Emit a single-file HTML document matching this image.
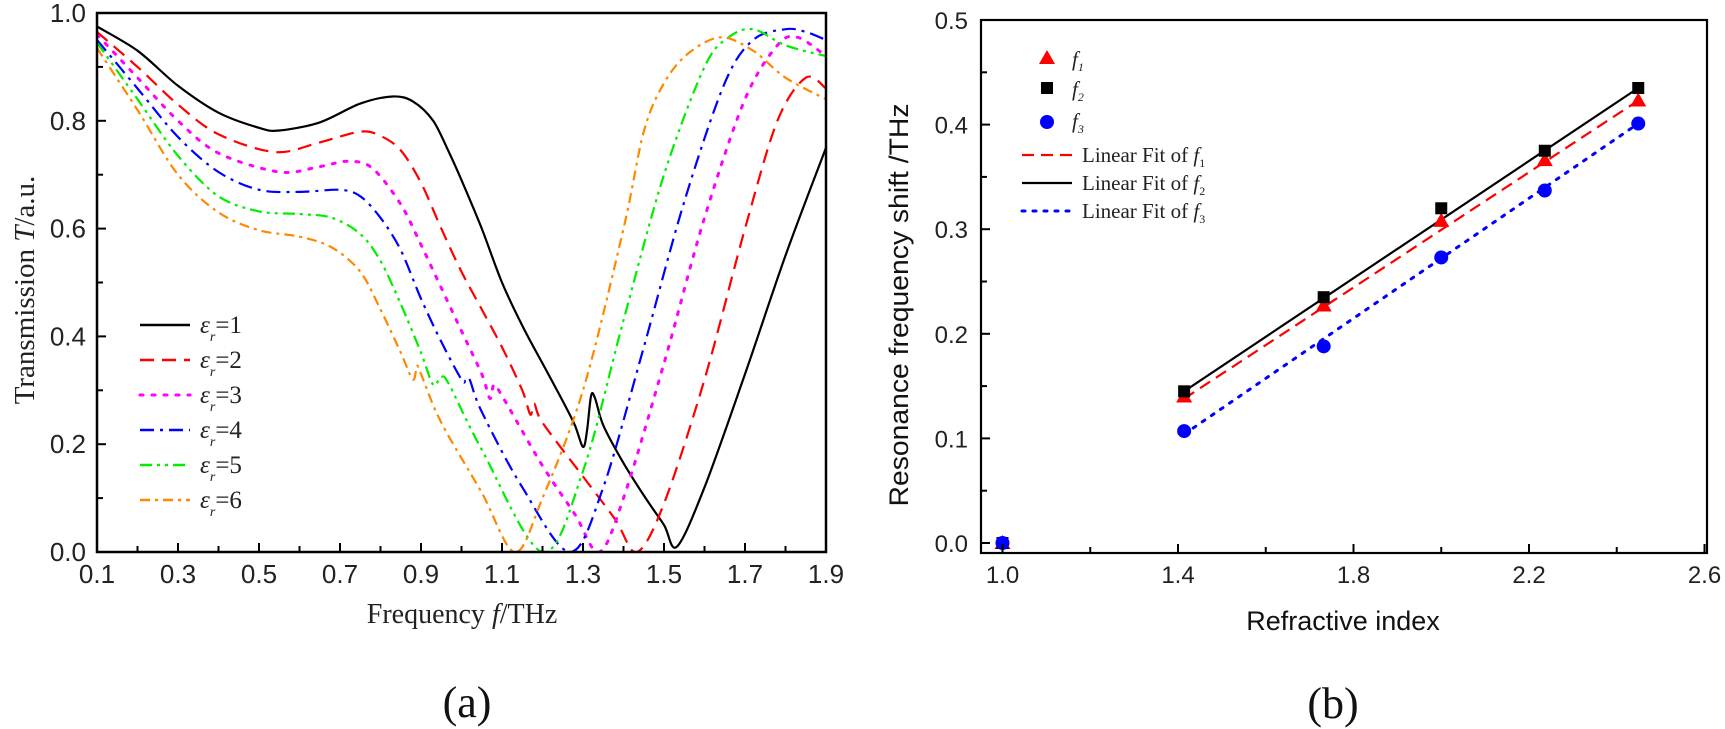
<!DOCTYPE html>
<html><head><meta charset="utf-8"><style>html,body{margin:0;padding:0;background:#fff}svg{display:block}</style></head>
<body>
<svg width="1725" height="729" viewBox="0 0 1725 729" xmlns="http://www.w3.org/2000/svg">
<defs>
<clipPath id="ca"><rect x="97" y="13" width="729" height="539"/></clipPath>
</defs>
<g id="left">
<g clip-path="url(#ca)" fill="none" stroke-width="2.2" stroke-linejoin="round">
<path id="e1" stroke="#000" d=""/>
<path id="e2" stroke="#f00" stroke-dasharray="14,8" d=""/>
<path id="e3" stroke="#f0f" stroke-dasharray="3,9" stroke-width="3" stroke-linecap="round" d=""/>
<path id="e4" stroke="#00f" stroke-dasharray="14,6,3,6" d=""/>
<path id="e5" stroke="#0e0" stroke-dasharray="12,5,3,5,3,5" d=""/>
<path id="e6" stroke="#f80" stroke-dasharray="10,5,3,5" d=""/>
</g>
<rect x="97" y="13" width="729" height="539" fill="none" stroke="#000" stroke-width="2.5"/>
<g id="lticks" stroke="#000" stroke-width="2"></g>
<g font-family="Liberation Sans, sans-serif" font-size="26" fill="#222" text-anchor="middle" id="lxl"></g>
<g font-family="Liberation Sans, sans-serif" font-size="26" fill="#222" text-anchor="end" id="lyl"></g>
<text x="462" y="623" font-family="Liberation Serif, serif" font-size="28" text-anchor="middle" fill="#222">Frequency <tspan font-style="italic">f</tspan>/THz</text>
<text transform="translate(34,290) rotate(-90)" font-family="Liberation Serif, serif" font-size="29" text-anchor="middle" fill="#222">Transmission <tspan font-style="italic">T</tspan>/a.u.</text>
<g font-family="Liberation Serif, serif" font-size="25" fill="#222" stroke-width="2.5">
<line x1="140" y1="325" x2="190" y2="325" stroke="#000"/><text x="200" y="333"><tspan font-style="italic">ε</tspan><tspan font-style="italic" font-size="14" dy="8">r</tspan><tspan dy="-8">=1</tspan></text>
<line x1="140" y1="360" x2="190" y2="360" stroke="#f00" stroke-dasharray="14,8"/><text x="200" y="368"><tspan font-style="italic">ε</tspan><tspan font-style="italic" font-size="14" dy="8">r</tspan><tspan dy="-8">=2</tspan></text>
<line x1="140" y1="395" x2="190" y2="395" stroke="#f0f" stroke-dasharray="3,9" stroke-width="3" stroke-linecap="round"/><text x="200" y="403"><tspan font-style="italic">ε</tspan><tspan font-style="italic" font-size="14" dy="8">r</tspan><tspan dy="-8">=3</tspan></text>
<line x1="140" y1="430" x2="190" y2="430" stroke="#00f" stroke-dasharray="14,6,3,6"/><text x="200" y="438"><tspan font-style="italic">ε</tspan><tspan font-style="italic" font-size="14" dy="8">r</tspan><tspan dy="-8">=4</tspan></text>
<line x1="140" y1="465" x2="190" y2="465" stroke="#0e0" stroke-dasharray="12,5,3,5,3,5"/><text x="200" y="473"><tspan font-style="italic">ε</tspan><tspan font-style="italic" font-size="14" dy="8">r</tspan><tspan dy="-8">=5</tspan></text>
<line x1="140" y1="500" x2="190" y2="500" stroke="#f80" stroke-dasharray="10,5,3,5"/><text x="200" y="508"><tspan font-style="italic">ε</tspan><tspan font-style="italic" font-size="14" dy="8">r</tspan><tspan dy="-8">=6</tspan></text>
</g>
<text x="467" y="717" font-family="Liberation Serif, serif" font-size="44" text-anchor="middle" fill="#111">(a)</text>
</g>
<g id="right">
<g fill="none" stroke-width="2.2">
<line id="fit1" stroke="#f00" stroke-dasharray="12,7"/>
<line id="fit2" stroke="#000"/>
<line id="fit3" stroke="#00f" stroke-dasharray="3,8" stroke-width="3" stroke-linecap="round"/>
</g>
<g id="marks"></g>
<rect x="981" y="20" width="726" height="533" fill="none" stroke="#000" stroke-width="2.2"/>
<g id="rticks" stroke="#000" stroke-width="2"></g>
<g font-family="Liberation Sans, sans-serif" font-size="24" fill="#222" text-anchor="middle" id="rxl"></g>
<g font-family="Liberation Sans, sans-serif" font-size="24" fill="#222" text-anchor="end" id="ryl"></g>
<text x="1343" y="630" font-family="Liberation Sans, sans-serif" font-size="27" text-anchor="middle" fill="#111">Refractive index</text>
<text transform="translate(908,305) rotate(-90)" font-family="Liberation Sans, sans-serif" font-size="27" text-anchor="middle" fill="#111" textLength="403" lengthAdjust="spacingAndGlyphs">Resonance frequency shift /THz</text>
<g font-family="Liberation Serif, serif" font-size="21" fill="#222">
<polygon points="1047,50 1055,64 1039,64" fill="#f00"/><text x="1072" y="66" font-style="italic">f<tspan font-size="12" dy="5">1</tspan></text>
<rect x="1041" y="82" width="12" height="12" fill="#000"/><text x="1072" y="96" font-style="italic">f<tspan font-size="12" dy="5">2</tspan></text>
<circle cx="1047" cy="122" r="7" fill="#00f"/><text x="1072" y="128" font-style="italic">f<tspan font-size="12" dy="5">3</tspan></text>
<line x1="1022" y1="155" x2="1072" y2="155" stroke="#f00" stroke-width="2.2" stroke-dasharray="12,7"/><text x="1082" y="162">Linear Fit of <tspan font-style="italic">f</tspan><tspan font-size="12" dy="5">1</tspan></text>
<line x1="1022" y1="183" x2="1072" y2="183" stroke="#000" stroke-width="2.2"/><text x="1082" y="190">Linear Fit of <tspan font-style="italic">f</tspan><tspan font-size="12" dy="5">2</tspan></text>
<line x1="1022" y1="211" x2="1072" y2="211" stroke="#00f" stroke-width="3" stroke-dasharray="3,8" stroke-linecap="round"/><text x="1082" y="218">Linear Fit of <tspan font-style="italic">f</tspan><tspan font-size="12" dy="5">3</tspan></text>
</g>
<text x="1333" y="718" font-family="Liberation Serif, serif" font-size="44" text-anchor="middle" fill="#111">(b)</text>
</g>
</svg>
<script>
var NS="http://www.w3.org/2000/svg";
function X(f){return 97+405*(f-0.1)}function Y(t){return 552-539*t}
var C={
e1:[[0.1,0.975],[0.2,0.93],[0.3,0.865],[0.4,0.815],[0.5,0.787],[0.55,0.782],[0.65,0.797],[0.75,0.832],[0.83,0.845],[0.88,0.836],[0.93,0.8],[0.97,0.74],[1.0,0.69],[1.05,0.6],[1.1,0.5],[1.15,0.42],[1.2,0.35],[1.25,0.28],[1.28,0.235],[1.3,0.195],[1.31,0.225],[1.32,0.29],[1.33,0.285],[1.35,0.235],[1.4,0.165],[1.45,0.105],[1.5,0.05],[1.532,0.01],[1.6,0.12],[1.7,0.33],[1.8,0.55],[1.9,0.75]],
e2:[[0.1,0.965],[0.2,0.9],[0.3,0.83],[0.4,0.775],[0.54,0.742],[0.65,0.76],[0.75,0.78],[0.8,0.772],[0.85,0.745],[0.9,0.685],[0.95,0.6],[1.0,0.52],[1.05,0.45],[1.1,0.38],[1.15,0.3],[1.17,0.255],[1.18,0.275],[1.2,0.24],[1.3,0.14],[1.38,0.06],[1.433,0.0],[1.5,0.09],[1.6,0.32],[1.7,0.6],[1.78,0.8],[1.85,0.88],[1.9,0.86]],
e3:[[0.1,0.96],[0.2,0.88],[0.3,0.8],[0.4,0.74],[0.55,0.705],[0.65,0.715],[0.72,0.725],[0.78,0.712],[0.85,0.645],[0.9,0.57],[0.95,0.49],[1.0,0.41],[1.05,0.33],[1.07,0.285],[1.08,0.31],[1.1,0.29],[1.2,0.16],[1.28,0.07],[1.34,0.0],[1.4,0.1],[1.5,0.35],[1.6,0.62],[1.7,0.84],[1.78,0.94],[1.83,0.955],[1.9,0.92]],
e4:[[0.1,0.95],[0.2,0.86],[0.3,0.77],[0.4,0.705],[0.5,0.672],[0.6,0.668],[0.7,0.672],[0.75,0.66],[0.8,0.62],[0.85,0.56],[0.9,0.47],[0.95,0.39],[1.0,0.32],[1.01,0.318],[1.02,0.32],[1.05,0.26],[1.15,0.12],[1.268,0.0],[1.35,0.12],[1.45,0.38],[1.55,0.65],[1.65,0.87],[1.72,0.95],[1.8,0.97],[1.85,0.965],[1.9,0.95]],
e5:[[0.1,0.945],[0.2,0.84],[0.3,0.735],[0.4,0.66],[0.5,0.632],[0.6,0.627],[0.68,0.62],[0.75,0.59],[0.8,0.54],[0.85,0.46],[0.9,0.37],[0.93,0.31],[0.95,0.325],[0.97,0.31],[1.05,0.19],[1.2,0.0],[1.3,0.15],[1.4,0.43],[1.5,0.7],[1.6,0.9],[1.66,0.955],[1.72,0.97],[1.8,0.94],[1.9,0.92]],
e6:[[0.1,0.935],[0.2,0.82],[0.3,0.7],[0.4,0.63],[0.5,0.597],[0.6,0.585],[0.68,0.565],[0.75,0.52],[0.8,0.45],[0.85,0.37],[0.88,0.32],[0.89,0.345],[0.9,0.33],[0.95,0.24],[1.05,0.11],[1.132,0.0],[1.2,0.1],[1.3,0.3],[1.4,0.6],[1.45,0.78],[1.5,0.87],[1.56,0.925],[1.64,0.955],[1.72,0.93],[1.8,0.88],[1.9,0.84]]};
function smooth(pts){var p=pts.map(function(a){return [X(a[0]),Y(a[1])]});var d="M"+p[0][0].toFixed(1)+","+p[0][1].toFixed(1);
for(var i=0;i<p.length-1;i++){var p0=p[i-1]||p[i],p1=p[i],p2=p[i+1],p3=p[i+2]||p2;var t=0.16;
var c1=[p1[0]+(p2[0]-p0[0])*t,p1[1]+(p2[1]-p0[1])*t],c2=[p2[0]-(p3[0]-p1[0])*t,p2[1]-(p3[1]-p1[1])*t];
d+=" C"+c1[0].toFixed(1)+","+c1[1].toFixed(1)+" "+c2[0].toFixed(1)+","+c2[1].toFixed(1)+" "+p2[0].toFixed(1)+","+p2[1].toFixed(1)}return d}
for(var k in C){document.getElementById(k).setAttribute("d",smooth(C[k]))}
function el(t,a,p){var e=document.createElementNS(NS,t);for(var q in a)e.setAttribute(q,a[q]);p.appendChild(e);return e}
var lt=document.getElementById("lticks"),lx=document.getElementById("lxl"),ly=document.getElementById("lyl");
for(var i=0;i<=18;i++){var x=97+40.5*i,L=(i%2==0)?9:6;el("line",{x1:x,y1:552,x2:x,y2:552-L},lt);if(i%2==0){var t=el("text",{x:x,y:583},lx);t.textContent=(0.1+i*0.1).toFixed(1)}}
for(var i=0;i<=10;i++){var y=552-53.9*i,L=(i%2==0)?9:6;el("line",{x1:97,y1:y,x2:97+L,y2:y},lt);if(i%2==0){var t=el("text",{x:86,y:y+9},ly);t.textContent=(i/10).toFixed(1)}}
function RX(v){return 1002.5+438.75*(v-1)}function RY(v){return 543-1046*v}
var rt=document.getElementById("rticks"),rx=document.getElementById("rxl"),ry=document.getElementById("ryl");
for(var i=0;i<=8;i++){var v=1+0.2*i,x=RX(v),L=(i%2==0)?9:6;el("line",{x1:x,y1:553,x2:x,y2:553-L},rt);if(i%2==0){var t=el("text",{x:x,y:583},rx);t.textContent=v.toFixed(1)}}
for(var i=0;i<=10;i++){var v=0.05*i,y=RY(v),L=(i%2==0)?9:6;el("line",{x1:981,y1:y,x2:981+L,y2:y},rt);if(i%2==0){var t=el("text",{x:968,y:y+9},ry);t.textContent=v.toFixed(1)}}
function setL(id,a,b){var e=document.getElementById(id);e.setAttribute("x1",RX(1.414));e.setAttribute("y1",RY(a));e.setAttribute("x2",RX(2.449));e.setAttribute("y2",RY(b))}
setL("fit1",0.138,0.423);setL("fit2",0.145,0.435);setL("fit3",0.104,0.401);
var xs=[1,1.414,1.732,2,2.236,2.449],f1=[0,0.14,0.227,0.308,0.366,0.423],f2=[0,0.145,0.235,0.32,0.375,0.435],f3=[0,0.107,0.188,0.273,0.337,0.401];
var m=document.getElementById("marks");
for(var i=0;i<6;i++){var x=RX(xs[i]);
el("polygon",{points:x+","+(RY(f1[i])-8)+" "+(x+8)+","+(RY(f1[i])+6)+" "+(x-8)+","+(RY(f1[i])+6),fill:"#f00"},m);
el("rect",{x:x-6,y:RY(f2[i])-6,width:12,height:12,fill:"#000"},m);
el("circle",{cx:x,cy:RY(f3[i]),r:7,fill:"#00f"},m);}
</script>
</body></html>
